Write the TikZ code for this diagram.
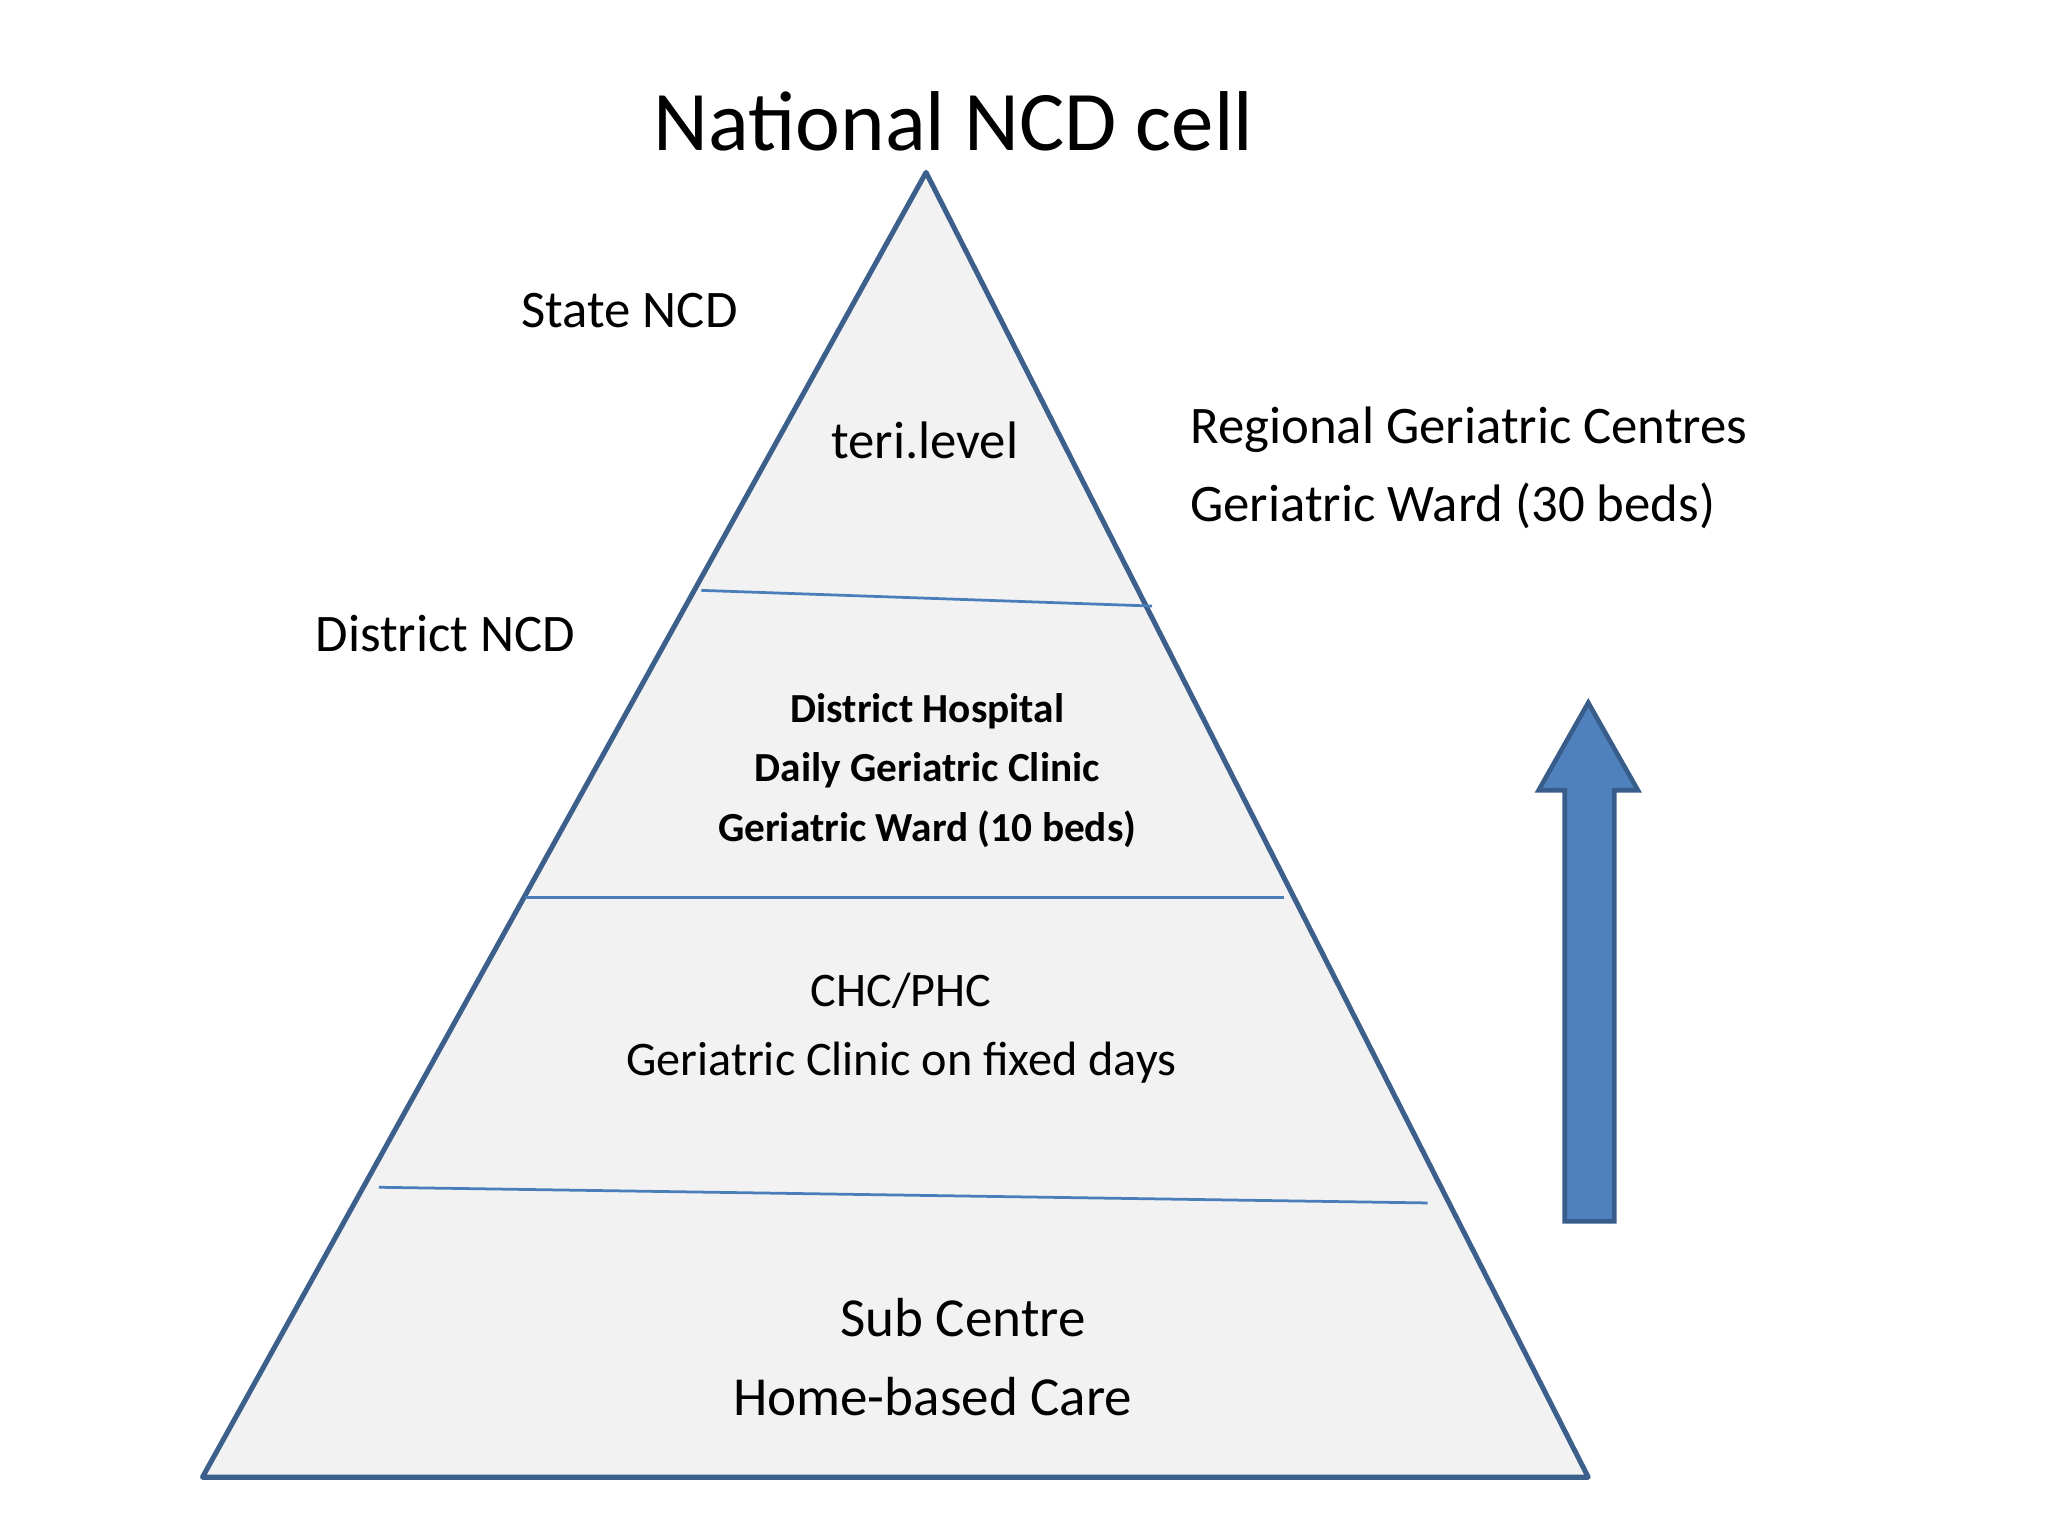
\documentclass[tikz,border=0pt]{standalone}
\usepackage{fontspec}
\setmainfont{Carlito}
\definecolor{edge}{HTML}{3C5F8C}
\definecolor{thin}{HTML}{4A7EBB}
\definecolor{pfill}{HTML}{F2F2F3}
\definecolor{afill}{HTML}{4F81BD}
\definecolor{aedge}{HTML}{385D8A}
\tikzset{lbl/.style={inner sep=0pt,align=center}, sep/.style={draw=thin,line width=1.2pt}}
\begin{document}
\begin{tikzpicture}[x=0.02cm,y=-0.02cm]
\useasboundingbox (0,0) rectangle (1568,1176);
\coordinate (A) at (709,132);
\coordinate (L) at (155,1131);
\coordinate (R) at (1216,1131);
\draw[edge,fill=pfill,line width=2.2pt,line join=round] (A)--(L)--(R)--cycle;
\coordinate (s1) at (537,452); \coordinate (e1) at (882,464);
\coordinate (s2) at (402,687); \coordinate (e2) at (983,687);
\coordinate (s3) at (290,909); \coordinate (e3) at (1093,921);
\draw[sep] (s1)--(e1); \draw[sep] (s2)--(e2); \draw[sep] (s3)--(e3);
\draw[aedge,fill=afill,line width=2pt] (1198,935)--(1198,605)--(1178,605)--(1216,538)--(1254,605)--(1236,605)--(1236,935)--cycle;
\node[lbl,font=\fontsize{37}{44}\selectfont] (t) at (730,93) {National NCD cell};
\node[lbl,font=\fontsize{23}{28}\selectfont] (st) at (482,238) {State NCD};
\node[lbl,font=\fontsize{23}{28}\selectfont] (te) at (708,337) {teri.level};
\node[lbl,font=\fontsize{23}{34}\selectfont,align=left,anchor=west] (rg) at (911,358) {Regional Geriatric Centres\\Geriatric Ward (30 beds)};
\node[lbl,font=\fontsize{23}{28}\selectfont] (dn) at (341,485) {District NCD};
\node[lbl,font=\bfseries\fontsize{18}{26}\selectfont] (dh) at (710,590) {District Hospital\\Daily Geriatric Clinic\\Geriatric Ward (10 beds)};
\node[lbl,font=\fontsize{21}{30}\selectfont] (ch) at (690,787) {CHC/PHC\\Geriatric Clinic on fixed days};
\node[lbl,font=\fontsize{24}{34}\selectfont] (sc) at (714,1039) {\hspace*{1.1em}Sub Centre\\Home-based Care};
\end{tikzpicture}
\end{document}
